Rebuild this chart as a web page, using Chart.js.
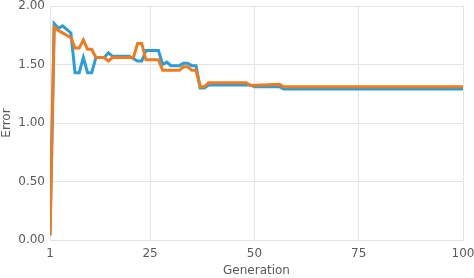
<!DOCTYPE html>
<html>
<head>
<meta charset="utf-8">
<script src="https://cdn.jsdelivr.net/npm/chart.js@4"></script>
<style>
    html, body { margin: 0; padding: 0; background: #fff; }
    #wrap { width: 474px; height: 278px; }
</style>
</head>
<body>
<div id="wrap"><canvas id="errorChart"></canvas></div>
<script>
// generations and error values
const blueGens = [1, 2, 3, 4, 5, 6, 7, 8, 9, 10, 11, 12, 13, 14, 15, 16, 20, 21, 22, 23, 24, 27, 28, 29, 30, 32, 33, 34, 35, 36, 37, 38, 39, 49, 50, 56, 57, 100];
const blueErr = [0.04, 1.85, 1.81, 1.83, 1.80, 1.77, 1.43, 1.43, 1.56, 1.43, 1.43, 1.56, 1.56, 1.56, 1.60, 1.57, 1.57, 1.55, 1.53, 1.53, 1.62, 1.62, 1.50, 1.52, 1.49, 1.49, 1.51, 1.51, 1.49, 1.49, 1.30, 1.30, 1.325, 1.325, 1.31, 1.31, 1.29, 1.29];

const orangeGens = [1, 2, 3, 4, 5, 6, 7, 8, 9, 10, 11, 12, 14, 15, 16, 21, 22, 23, 24, 27, 28, 32, 33, 34, 35, 36, 37, 38, 39, 48, 49, 56, 57, 100];
const orangeErr = [0.04, 1.82, 1.79, 1.77, 1.75, 1.73, 1.64, 1.64, 1.71, 1.63, 1.63, 1.56, 1.56, 1.53, 1.56, 1.56, 1.68, 1.68, 1.54, 1.54, 1.45, 1.45, 1.48, 1.48, 1.45, 1.45, 1.31, 1.31, 1.345, 1.345, 1.32, 1.33, 1.31, 1.31];

const xTicks = [1, 25, 50, 75, 100];
const yTicks = [0, 0.5, 1, 1.5, 2];

const toPoints = (gens, vals) => gens.map((g, i) => ({ x: g, y: vals[i] }));

const font = { family: 'DejaVu Sans', size: 12 };
const textColor = '#5a5a5a';
const gridColor = '#e4e4e4';

new Chart(document.getElementById('errorChart'), {
    type: 'line',
    data: {
        datasets: [
            {
                label: 'B',
                data: toPoints(orangeGens, orangeErr),
                borderColor: '#f07b1f',
                borderWidth: 3,
                pointRadius: 0,
                tension: 0
            },
            {
                label: 'A',
                data: toPoints(blueGens, blueErr),
                borderColor: '#2a9ed8',
                borderWidth: 3,
                pointRadius: 0,
                tension: 0
            }
        ]
    },
    options: {
        responsive: true,
        maintainAspectRatio: false,
        animation: false,
        layout: { padding: 0 },
        plugins: {
            legend: { display: false },
            tooltip: { enabled: false }
        },
        scales: {
            x: {
                type: 'linear',
                min: 1,
                max: 100,
                afterBuildTicks: scale => { scale.ticks = xTicks.map(v => ({ value: v })); },
                afterFit: scale => {
                    scale.height = 38;
                    scale.paddingLeft = 0;
                    scale.paddingRight = 11;
                },
                grid: { color: gridColor, drawTicks: false },
                border: { color: gridColor },
                ticks: { color: textColor, font: font, padding: 7, maxRotation: 0 },
                title: { display: true, text: 'Generation', color: textColor, font: font, padding: { top: 0, bottom: 0 } }
            },
            y: {
                min: 0,
                max: 2,
                afterBuildTicks: scale => { scale.ticks = yTicks.map(v => ({ value: v })); },
                afterFit: scale => {
                    scale.width = 50;
                    scale.paddingTop = 6;
                    scale.paddingBottom = 0;
                },
                grid: { color: gridColor, drawTicks: false },
                border: { color: gridColor },
                ticks: { color: textColor, font: font, padding: 5, callback: v => v.toFixed(2) },
                title: { display: true, text: 'Error', color: textColor, font: font, padding: { top: 0, bottom: 2 } }
            }
        }
    }
});
</script>
</body>
</html>
